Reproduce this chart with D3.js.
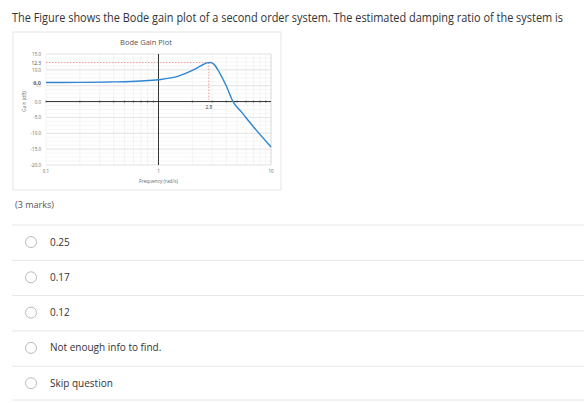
<!DOCTYPE html><html><head><meta charset="utf-8"><script src="https://cdn.jsdelivr.net/npm/d3@7"></script>
<style>body{margin:0;background:#fff;font-family:"Open Sans",sans-serif}</style></head><body><svg id="s" width="584" height="403"></svg>
<script>
const freq=[0.1,0.2,0.4,0.7,1,1.5,2,2.4,2.7,2.9,3.1,3.5,4,4.6,5.5,7,10];
const gain=[6.0,6.05,6.2,6.5,6.9,8.0,9.8,11.3,12.2,12.3,11.8,9.0,5.0,0,-3.4,-8.0,-14.3];
const yTicks=[15,10,6,0,-5,-10,-15,-20];
const xTicks=[0.1,1,10];
const options=["0.25","0.17","0.12","Not enough info to find.","Skip question"];
const svg=d3.select("#s");
svg.append("text").attr("x",12).attr("y",22).attr("font-size",12.5).attr("textLength",551).attr("lengthAdjust","spacingAndGlyphs").attr("fill","#333").text("The Figure shows the Bode gain plot of a second order system. The estimated damping ratio of the system is");
svg.append("rect").attr("x",13).attr("y",32).attr("width",268).attr("height",158).attr("fill","#fff").attr("stroke","#e6e6e6");
svg.append("text").attr("x",146).attr("y",45).attr("text-anchor","middle").attr("font-size",7.5).attr("fill","#555").text("Bode Gain Plot");
const x=d3.scaleLog().domain([0.1,10]).range([46,271]);
const y=d3.scaleLinear().domain([-20,15]).range([165,54]);
const g=svg.append("g");
const minor=[];for(let d=0.1;d<10;d*=10)for(let k=1;k<10;k++)minor.push(d*k);
g.selectAll(".vm").data(minor).join("line").attr("x1",d=>x(d)).attr("x2",d=>x(d)).attr("y1",54).attr("y2",165).attr("stroke","#e8e8e8").attr("stroke-width",0.5);
g.selectAll(".hm").data(d3.range(-20,15.1,1.25)).join("line").attr("x1",46).attr("x2",271).attr("y1",d=>y(d)).attr("y2",d=>y(d)).attr("stroke","#ececec").attr("stroke-width",0.5);
g.selectAll(".hM").data(d3.range(-20,15.1,5)).join("line").attr("x1",46).attr("x2",271).attr("y1",d=>y(d)).attr("y2",d=>y(d)).attr("stroke","#d8d8d8").attr("stroke-width",0.6);
g.append("line").attr("x1",x(10)).attr("x2",x(10)).attr("y1",54).attr("y2",165).attr("stroke","#d8d8d8");
g.append("line").attr("x1",46).attr("x2",x(2.8)).attr("y1",y(12.3)).attr("y2",y(12.3)).attr("stroke","#f08080").attr("stroke-dasharray","1.5,1.5").attr("stroke-width",0.8);
g.append("line").attr("x1",x(2.8)).attr("x2",x(2.8)).attr("y1",y(12.3)).attr("y2",y(0)).attr("stroke","#f08080").attr("stroke-dasharray","1.5,1.5").attr("stroke-width",0.8);
g.append("line").attr("x1",46).attr("x2",271).attr("y1",y(0)).attr("y2",y(0)).attr("stroke","#333").attr("stroke-width",1);
g.append("line").attr("x1",x(1)).attr("x2",x(1)).attr("y1",54).attr("y2",165).attr("stroke","#333").attr("stroke-width",1);
g.selectAll(".tk").data(minor).join("line").attr("x1",d=>x(d)).attr("x2",d=>x(d)).attr("y1",y(0)-1.2).attr("y2",y(0)+1.2).attr("stroke","#333").attr("stroke-width",0.5);
g.selectAll(".yl").data(yTicks).join("text").attr("x",41).attr("y",d=>y(d)+2).attr("text-anchor","end").attr("font-size",d=>(d==6?5.5:4.5)).attr("font-weight",d=>d==6?"bold":"normal").attr("fill","#666").text(d=>d.toFixed(1));
svg.append("text").attr("x",41).attr("y",y(5)+1).attr("text-anchor","end").attr("font-size",3.5).attr("fill","#999").text("5.0");
svg.append("text").attr("x",41).attr("y",y(12.3)+2).attr("text-anchor","end").attr("font-size",4.8).attr("fill","#444").text("12.3");
svg.append("text").attr("x",x(2.8)).attr("y",y(0)+7).attr("text-anchor","middle").attr("font-size",4.8).attr("fill","#333").text("2.8");
g.selectAll(".xl").data(xTicks).join("text").attr("x",d=>x(d)).attr("y",173).attr("text-anchor","middle").attr("font-size",4.5).attr("fill","#666").text(d=>d);
svg.append("text").attr("x",x(1)).attr("y",183).attr("text-anchor","middle").attr("font-size",4.8).attr("fill","#666").text("Frequency (rad/s)");
svg.append("text").attr("transform",`translate(26,${y(0)}) rotate(-90)`).attr("text-anchor","middle").attr("font-size",4.8).attr("fill","#666").text("Gain (dB)");
g.append("path").datum(freq.map((f,i)=>[f,gain[i]])).attr("d",d3.line().x(d=>x(d[0])).y(d=>y(d[1])).curve(d3.curveMonotoneX)).attr("fill","none").attr("stroke","#2e86d1").attr("stroke-width",1.4);
svg.append("text").attr("x",15).attr("y",208).attr("font-size",9).attr("fill","#555").text("(3 marks)");
options.forEach((o,i)=>{const cy=242+i*35.3;
svg.append("line").attr("x1",12).attr("x2",584).attr("y1",cy-17).attr("y2",cy-17).attr("stroke","#e6e6e6");
svg.append("circle").attr("cx",31).attr("cy",cy).attr("r",5.5).attr("fill","#fff").attr("stroke","#bbb");
svg.append("text").attr("x",50).attr("y",cy+3.5).attr("font-size",10).attr("fill","#333").text(o);});
svg.append("line").attr("x1",12).attr("x2",584).attr("y1",400).attr("y2",400).attr("stroke","#e6e6e6");
</script></body></html>
